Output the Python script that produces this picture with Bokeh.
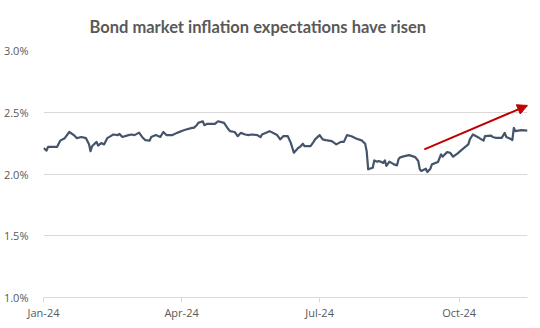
from datetime import datetime
import pandas as pd
from bokeh.plotting import figure
from bokeh.models import (ColumnDataSource, Range1d, FixedTicker, DatetimeTickFormatter,
                          NumeralTickFormatter, Arrow, NormalHead, Title)
from bokeh.embed import file_html
from bokeh.resources import INLINE

title_text = "Bond market inflation expectations have risen"

dates = [
    "2024-01-01", "2024-01-03", "2024-01-04", "2024-01-10", "2024-01-12", "2024-01-15",
    "2024-01-18", "2024-01-21", "2024-01-23", "2024-01-26", "2024-01-29", "2024-01-31",
    "2024-02-01", "2024-02-02", "2024-02-05", "2024-02-06", "2024-02-08", "2024-02-10",
    "2024-02-12", "2024-02-14", "2024-02-16", "2024-02-19", "2024-02-20", "2024-02-22",
    "2024-02-26", "2024-02-28", "2024-03-01", "2024-03-04", "2024-03-06", "2024-03-08",
    "2024-03-11", "2024-03-12", "2024-03-15", "2024-03-18", "2024-03-20", "2024-03-22",
    "2024-03-26", "2024-03-29", "2024-04-02", "2024-04-04", "2024-04-08", "2024-04-09",
    "2024-04-11", "2024-04-12", "2024-04-15", "2024-04-16", "2024-04-18", "2024-04-23",
    "2024-04-25", "2024-04-29", "2024-04-30", "2024-05-02", "2024-05-03", "2024-05-06",
    "2024-05-08", "2024-05-10", "2024-05-13", "2024-05-15", "2024-05-17", "2024-05-21",
    "2024-05-23", "2024-05-24", "2024-05-29", "2024-06-03", "2024-06-05", "2024-06-07",
    "2024-06-10", "2024-06-12", "2024-06-14", "2024-06-17", "2024-06-18", "2024-06-20",
    "2024-06-21", "2024-06-25", "2024-06-27", "2024-06-28", "2024-07-01", "2024-07-03",
    "2024-07-05", "2024-07-09", "2024-07-12", "2024-07-15", "2024-07-17", "2024-07-19",
    "2024-07-22", "2024-07-25", "2024-07-29", "2024-07-31", "2024-08-01", "2024-08-02",
    "2024-08-05", "2024-08-06", "2024-08-08", "2024-08-09", "2024-08-12", "2024-08-13",
    "2024-08-14", "2024-08-16", "2024-08-19", "2024-08-21", "2024-08-22", "2024-08-23",
    "2024-08-26", "2024-08-29", "2024-09-02", "2024-09-04", "2024-09-05", "2024-09-06",
    "2024-09-09", "2024-09-10", "2024-09-12", "2024-09-13", "2024-09-17", "2024-09-19",
    "2024-09-20", "2024-09-23", "2024-09-25", "2024-09-27", "2024-09-30", "2024-10-03",
    "2024-10-07", "2024-10-08", "2024-10-10", "2024-10-14", "2024-10-17", "2024-10-18",
    "2024-10-22", "2024-10-23", "2024-10-25", "2024-10-29", "2024-10-31", "2024-11-01",
    "2024-11-04", "2024-11-05", "2024-11-06", "2024-11-07", "2024-11-11", "2024-11-15",
]

breakeven = [
    2.21, 2.19, 2.22, 2.22, 2.27, 2.29,
    2.34, 2.315, 2.29, 2.30, 2.29, 2.24,
    2.185, 2.225, 2.26, 2.23, 2.25, 2.24,
    2.29, 2.305, 2.32, 2.315, 2.325, 2.30,
    2.315, 2.32, 2.315, 2.335, 2.30, 2.275,
    2.27, 2.30, 2.315, 2.30, 2.34, 2.315,
    2.315, 2.333, 2.352, 2.36, 2.373, 2.373,
    2.395, 2.414, 2.427, 2.395, 2.406, 2.406,
    2.427, 2.414, 2.395, 2.36, 2.347, 2.34,
    2.306, 2.333, 2.32, 2.315, 2.32, 2.315,
    2.298, 2.32, 2.347, 2.315, 2.28, 2.306,
    2.306, 2.252, 2.172, 2.212, 2.218, 2.245,
    2.226, 2.226, 2.26, 2.28, 2.315, 2.28,
    2.274, 2.266, 2.24, 2.26, 2.26, 2.315,
    2.306, 2.288, 2.27, 2.245, 2.185, 2.038,
    2.05, 2.11, 2.10, 2.105, 2.09, 2.11,
    2.065, 2.10, 2.078, 2.07, 2.12, 2.135,
    2.145, 2.153, 2.137, 2.105, 2.038, 2.024,
    2.043, 2.016, 2.043, 2.078, 2.097, 2.159,
    2.14, 2.177, 2.172, 2.14, 2.167, 2.199,
    2.24, 2.28, 2.32, 2.293, 2.27, 2.306,
    2.31, 2.30, 2.293, 2.293, 2.333, 2.30,
    2.284, 2.274, 2.373, 2.347, 2.355, 2.352,
]

tick_dates = ["2024-01-01", "2024-04-01", "2024-07-01", "2024-10-01"]
y_ticks = [1.0, 1.5, 2.0, 2.5, 3.0]

arrow_dates = ["2024-09-08", "2024-11-15"]
arrow_values = [2.20, 2.555]

x_start, x_end = "2024-01-01", "2024-11-15"
y_start, y_end = 1.0, 3.0

def ms(d):
    return pd.Timestamp(d).value / 1e6

src = ColumnDataSource(dict(x=pd.to_datetime(dates), y=[v / 100 for v in breakeven]))

p = figure(width=540, height=328, output_backend="svg", toolbar_location=None,
           x_axis_type="datetime",
           x_range=Range1d(ms(x_start), ms(x_end)),
           y_range=Range1d(y_start / 100, y_end / 100),
           min_border_left=43, min_border_right=13, min_border_top=49, min_border_bottom=31)
p.outline_line_color = None
p.background_fill_color = "white"
p.border_fill_color = "white"

t = Title(text=title_text, align="left", text_font="Lato", text_font_size="16.5px",
          text_font_style="bold", text_color="#595959", offset=46, standoff=28)
p.add_layout(t, "above")

p.line("x", "y", source=src, line_color="#44546A", line_width=2.2, line_join="round")

head = NormalHead(size=10, fill_color="#C00000", line_color="#C00000")
p.add_layout(Arrow(end=head, x_start=ms(arrow_dates[0]), y_start=arrow_values[0] / 100,
                   x_end=ms(arrow_dates[1]), y_end=arrow_values[1] / 100,
                   line_color="#C00000", line_width=2))

# x axis
xa = p.xaxis[0]
xa.ticker = FixedTicker(ticks=[ms(d) for d in tick_dates])
fmt = "%b-%y"
xa.formatter = DatetimeTickFormatter(days=fmt, months=fmt, years=fmt, hours=fmt,
                                     minutes=fmt, seconds=fmt, milliseconds=fmt,
                                     microseconds=fmt, minsec=fmt, hourmin=fmt)
xa.axis_line_color = "#D9D9D9"
xa.major_tick_line_color = "#D9D9D9"
xa.major_tick_in = 0
xa.major_tick_out = 5
xa.minor_tick_line_color = None
xa.major_label_text_font = "Open Sans"
xa.major_label_text_font_size = "11px"
xa.major_label_text_color = "#595959"
xa.major_label_standoff = 2

ya = p.yaxis[0]
ya.ticker = FixedTicker(ticks=[v / 100 for v in y_ticks])
ya.formatter = NumeralTickFormatter(format="0.0%")
ya.axis_line_color = None
ya.major_tick_line_color = None
ya.minor_tick_line_color = None
ya.major_label_text_font = "Open Sans"
ya.major_label_text_font_size = "11px"
ya.major_label_text_color = "#595959"
ya.major_label_standoff = 9

p.xgrid.grid_line_color = None
p.ygrid.grid_line_color = "#D9D9D9"
p.ygrid.grid_line_width = 1

open("out.html", "w").write(file_html(p, INLINE))
